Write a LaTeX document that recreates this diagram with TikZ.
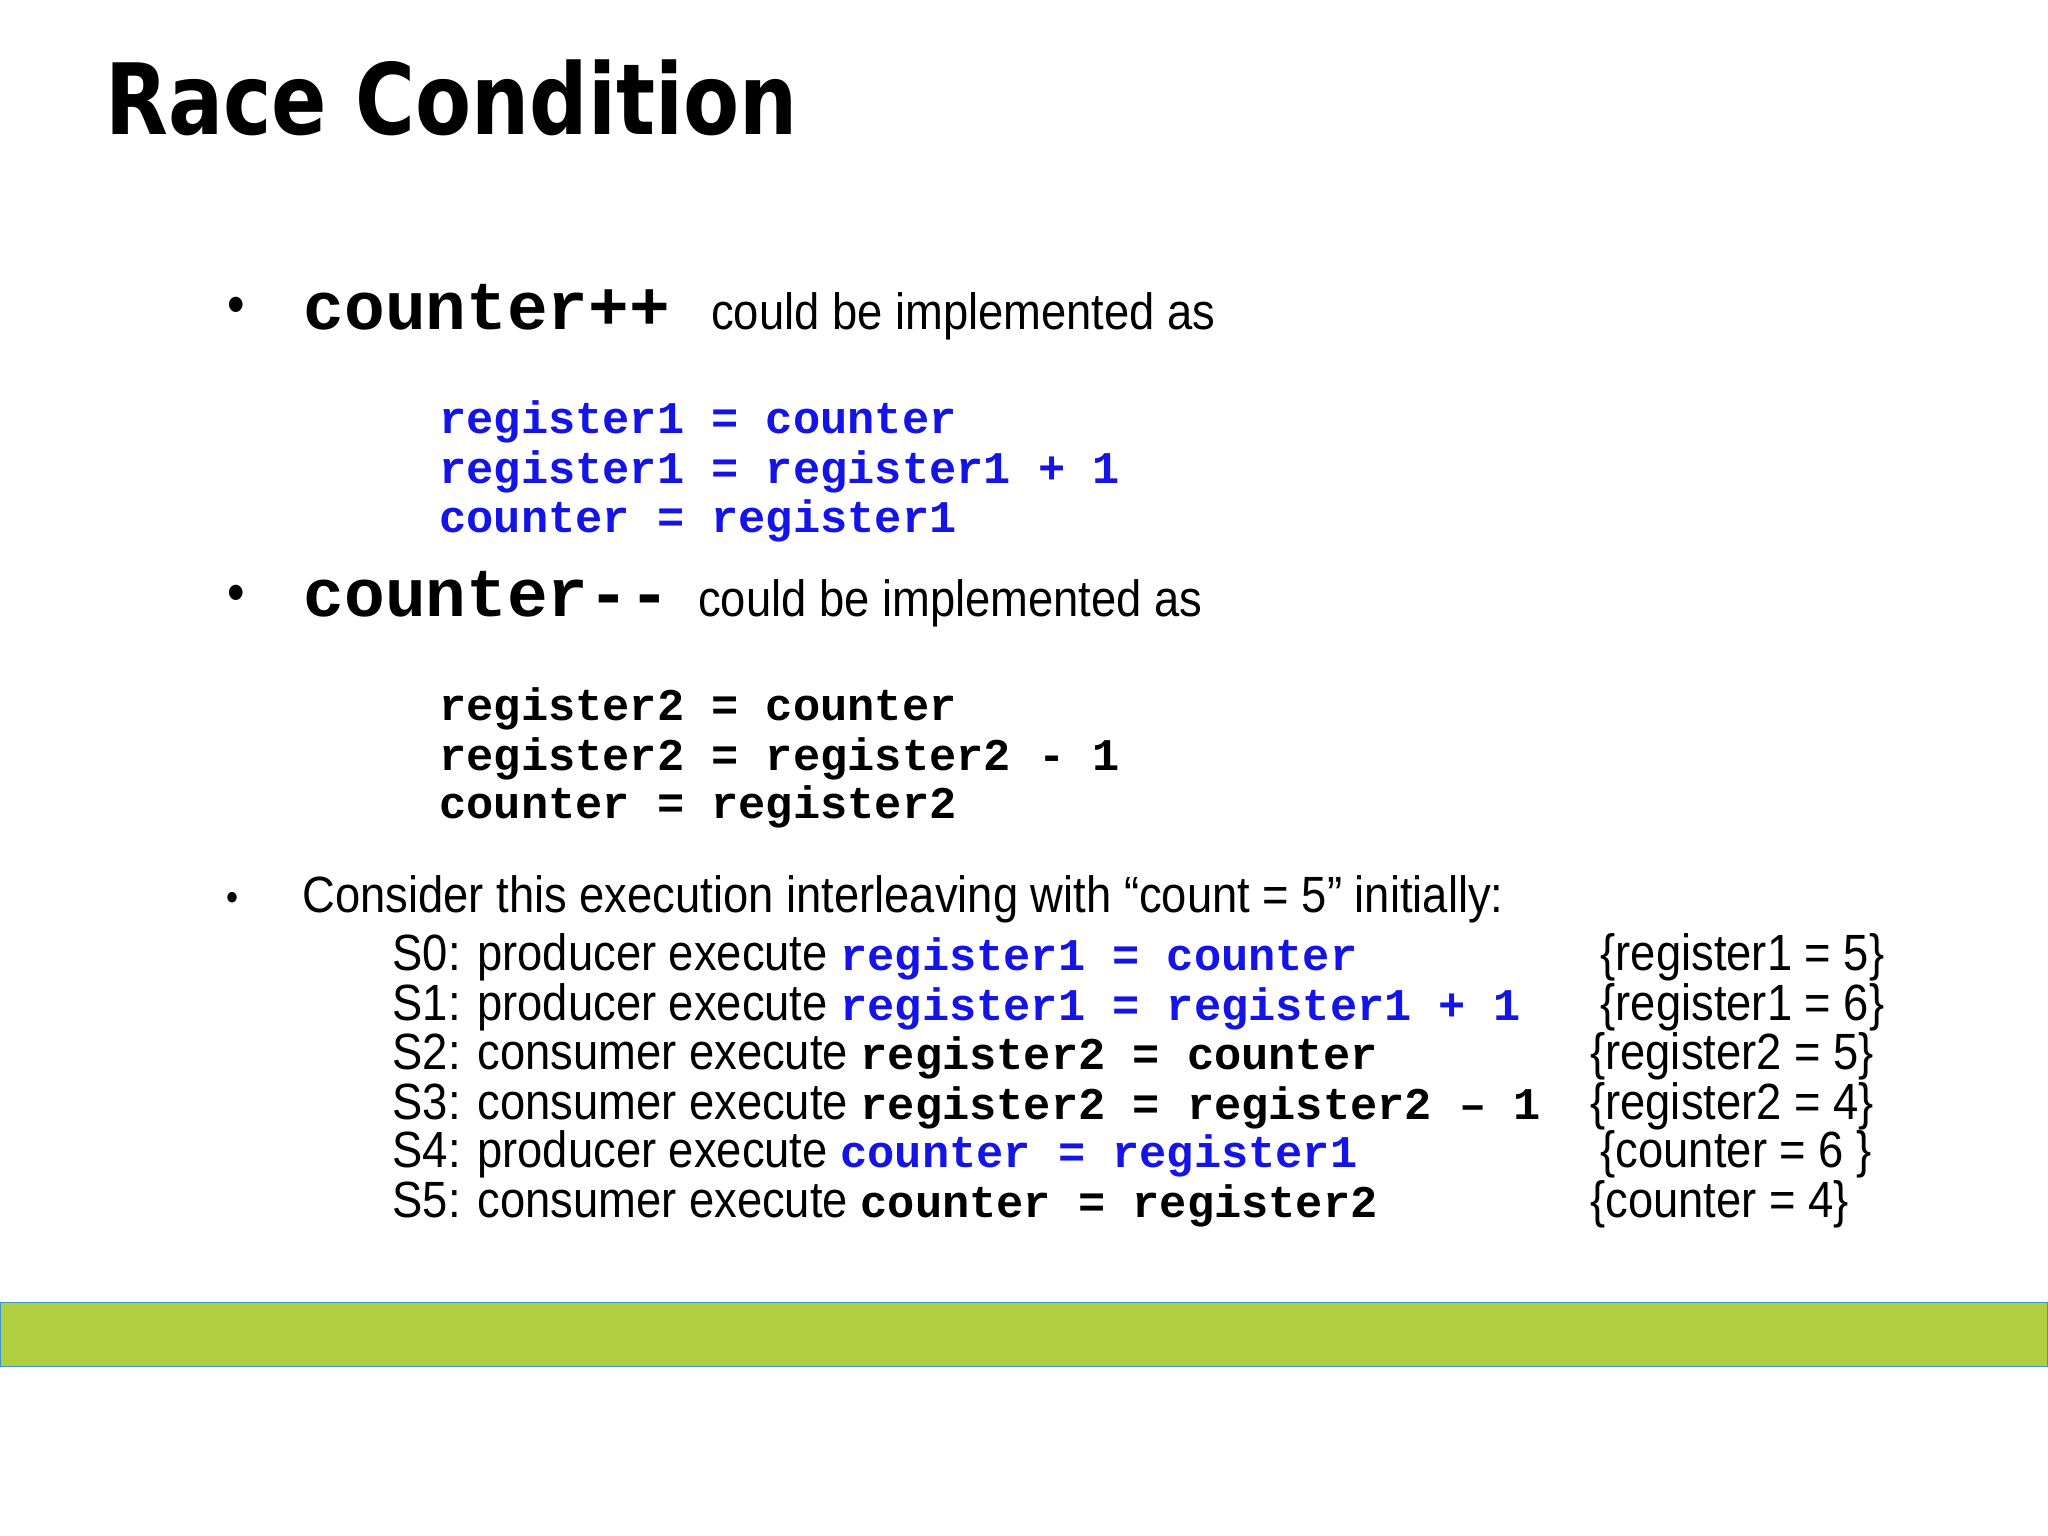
\documentclass[tikz,border=0pt]{standalone}
\usepackage{fontspec}
\setmainfont{Liberation Sans}[FakeStretch=0.89]
\newfontfamily\titlefont{DejaVu Sans}[FakeStretch=0.83]
\newfontfamily\codefont{Liberation Mono}
\definecolor{codeblue}{RGB}{20, 20, 230}
\definecolor{barfill}{RGB}{176, 206, 64}
\definecolor{barline}{RGB}{60, 150, 200}
\usetikzlibrary{positioning}

\begin{document}
\begin{tikzpicture}[x=0.013061cm, y=-0.013061cm,
  txt/.style={anchor=base west, inner sep=0pt, font=\fontsize{14.5}{16}\selectfont},
  code/.style={anchor=base west, inner sep=0pt, font=\codefont\bfseries\fontsize{12.9}{14}\selectfont},
  bigcode/.style={anchor=base west, inner sep=0pt, font=\codefont\bfseries\fontsize{19.3}{20}\selectfont},
  dot/.style={anchor=base, inner sep=0pt, font=\fontsize{16}{18}\selectfont}]
  \useasboundingbox (0,0) rectangle (1568,1176);

  % ===== Title =====
  \node[anchor=base west, inner sep=0pt, font=\titlefont\bfseries\fontsize{28}{30}\selectfont] (title) at (80,103) {Race Condition};

  % ===== counter++ =====
  \node[dot] (b1) at (181,248) {•};
  \node[bigcode] (inc) at (232,252) {counter++};
  \node[txt] (inctxt) at (544,252) {could be implemented as};
  \node[code, text=codeblue] (i1) at (336,332) {register1 = counter};
  \node[code, text=codeblue] (i2) at (336,370) {register1 = register1 + 1};
  \node[code, text=codeblue] (i3) at (336,408) {counter = register1};

  % ===== counter-- =====
  \node[dot] (b2) at (181,468) {•};
  \node[bigcode] (dec) at (232,472) {counter--};
  \node[txt] (dectxt) at (534,472) {could be implemented as};
  \node[code] (d1) at (336,552) {register2 = counter};
  \node[code] (d2) at (336,590) {register2 = register2 - 1};
  \node[code] (d3) at (336,627) {counter = register2};

  % ===== Interleaving =====
  \node[dot, font=\fontsize{11}{12}\selectfont] (b3) at (178,697) {•};
  \node[txt] (cons) at (231,699) {Consider this execution interleaving with “count = 5” initially:};

  \node[txt] (s0) at (300,743) {S0: producer execute \textcolor{codeblue}{\codefont\bfseries\fontsize{12.9}{14}\selectfont register1 = counter}};
  \node[txt] (s1) at (300,781) {S1: producer execute \textcolor{codeblue}{\codefont\bfseries\fontsize{12.9}{14}\selectfont register1 = register1 + 1}};
  \node[txt] (s2) at (300,819) {S2: consumer execute {\codefont\bfseries\fontsize{12.9}{14}\selectfont register2 = counter}};
  \node[txt] (s3) at (300,857) {S3: consumer execute {\codefont\bfseries\fontsize{12.9}{14}\selectfont register2 = register2 – 1}};
  \node[txt] (s4) at (300,894) {S4: producer execute \textcolor{codeblue}{\codefont\bfseries\fontsize{12.9}{14}\selectfont counter = register1}};
  \node[txt] (s5) at (300,932) {S5: consumer execute {\codefont\bfseries\fontsize{12.9}{14}\selectfont counter = register2}};

  \node[txt] (r0) at (1225,743) {\{register1 = 5\}};
  \node[txt] (r1) at (1225,781) {\{register1 = 6\}};
  \node[txt] (r2) at (1217,819) {\{register2 = 5\}};
  \node[txt] (r3) at (1217,857) {\{register2 = 4\}};
  \node[txt] (r4) at (1225,894) {\{counter = 6 \}};
  \node[txt] (r5) at (1217,932) {\{counter = 4\}};

  % ===== Bottom bar =====
  \draw[barline, fill=barfill] (0,997) rectangle (1568,1046);
\end{tikzpicture}
\end{document}
